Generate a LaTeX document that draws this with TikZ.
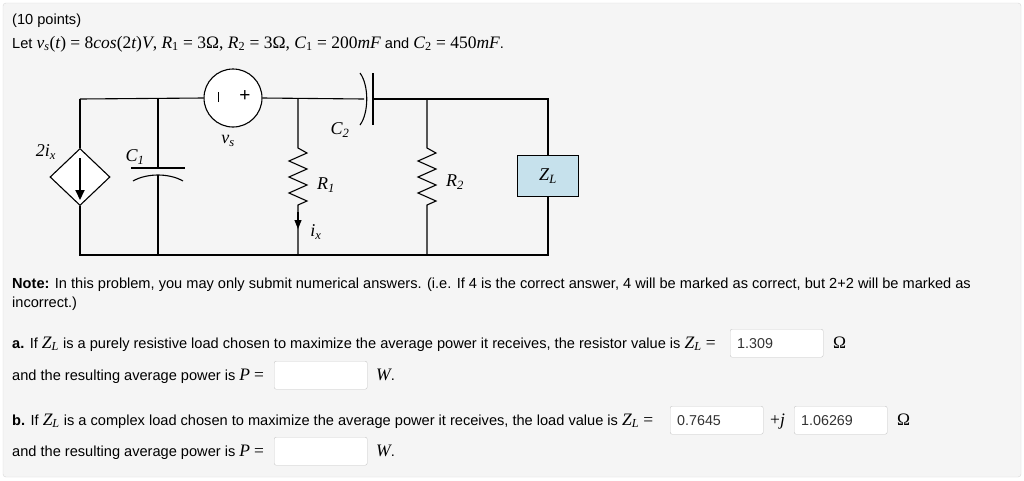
\documentclass[tikz,border=0pt]{standalone}
\usepackage{fontspec}
\setmainfont{Liberation Sans}
\newfontfamily\serifm{Liberation Serif}
\usetikzlibrary{shapes.geometric,arrows.meta}
\newcommand{\mi}[1]{{\serifm\itshape\fontsize{17.5}{18}\selectfont #1}}
\newcommand{\mr}[1]{{\serifm\fontsize{17.5}{18}\selectfont #1}}
\tikzset{
 wire/.style={line width=1.1pt},
 txt/.style={anchor=base west,inner sep=0,font=\fontsize{14.6}{16}\selectfont},
 lbl/.style={inner sep=0,font=\serifm\itshape\fontsize{18}{18}\selectfont},
 ans/.style={draw=black!22,rounded corners=2pt,fill=white,minimum width=93pt,minimum height=28pt,inner sep=0,anchor=north west},
 anstxt/.style={anchor=base west,inner sep=0,font=\fontsize{14.3}{16}\selectfont,text=black!80}
}
\begin{document}
\begin{tikzpicture}[x=1pt,y=-1pt]
\useasboundingbox (0,0) rectangle (1024,480);
\fill[white] (0,0) rectangle (1024,480);
\draw[draw=black!15,fill=black!4,rounded corners=3pt] (3,3) rectangle (1021,477);
% text
\node[txt] (t1) at (12,24) {(10 points)};
\node[txt] (t2) at (12,48) {Let \mi{v\textsubscript{s}}\mr{(}\mi{t}\mr{) = 8}\mi{cos}\mr{(2}\mi{t}\mr{)}\mi{V}\mr{, }\mi{R}\mr{\textsubscript{1} = 3Ω, }\mi{R}\mr{\textsubscript{2} = 3Ω, }\mi{C}\mr{\textsubscript{1} = 200}\mi{mF} and \mi{C}\mr{\textsubscript{2} = 450}\mi{mF}.};
% circuit
\coordinate (TL) at (80,99); \coordinate (BL) at (80,255);
\coordinate (TR) at (548,99); \coordinate (BR) at (548,255);
\node[draw,wire,fill=white,circle,minimum size=58pt,inner sep=0] (vs) at (233,98) {};
\node[lbl] (vsl) at (228,141) {v\textsubscript{\itshape s}};
\node (vm) at (218,97) {\rule{0.8pt}{10pt}};
\node[font=\fontsize{19}{19}\selectfont] (vp) at (245,96) {+};
\node[draw,wire,fill=white,diamond,minimum width=60pt,minimum height=57pt,inner sep=0] (dep) at (80,177) {};
\draw[-{Triangle[length=10pt,width=9pt]},line width=2pt] (80,158) -- (80,200);
\node[lbl] (depl) at (46,152) {2i\textsubscript{\itshape x}};
% C2 capacitor
\coordinate (c2a) at (364,99); \coordinate (c2b) at (373,99);
\draw[wire] (TL) -- (vs.west);
\draw[wire] (vs.east) -- (c2a);
\draw[wire] (c2b) -- (TR) -- (BR) -- (BL) -- (dep.south);
\draw[wire] (dep.north) -- (TL);
\draw[wire] (373,73) -- (373,125);
\draw[wire] (360,73) .. controls (369,85) and (369,113) .. (360,125);
\node[lbl] (c2l) at (340,130) {C\textsubscript{2}};
% C1
\draw[wire] (158,99) -- (158,168);
\draw[wire] (131,168) -- (185,168);
\draw[wire] (133,181) .. controls (147,173) and (169,173) .. (183,181);
\draw[wire] (158,175) -- (158,256);
\node[lbl] (c1l) at (135,157) {C\textsubscript{1}};
% R1
\draw[wire] (298,99) -- (298,148) -- (307,153) -- (289,161) -- (307,169) -- (289,177) -- (307,185) -- (289,193) -- (307,201) -- (298,205) -- (298,255);
\draw[-{Triangle[length=9pt,width=7pt]},line width=1.1pt] (298,212) -- (298,229);
\node[lbl] (r1l) at (326,185) {R\textsubscript{1}};
\node[lbl] (ixl) at (316,232) {i\textsubscript{\itshape x}};
% R2
\draw[wire] (427,99) -- (427,148) -- (436,153) -- (418,161) -- (436,169) -- (418,177) -- (436,185) -- (418,193) -- (436,201) -- (427,205) -- (427,255);
\node[lbl] (r2l) at (455,182) {R\textsubscript{2}};
% ZL
\node[draw,line width=1.8pt,fill=cyan!20!white!85!gray,minimum width=61pt,minimum height=41pt,inner sep=0,font=\serifm\itshape\fontsize{18}{18}\selectfont] (zl) at (548,176) {Z\textsubscript{L}};
% notes
\node[txt] (n1) at (12,288) {\textbf{Note:} In this problem, you may only submit numerical answers. (i.e. If 4 is the correct answer, 4 will be marked as correct, but 2+2 will be marked as};
\node[txt] (n2) at (12,307) {incorrect.)};
\node[txt] (a1) at (12,348) {\textbf{a.} If \mi{Z\textsubscript{L}} is a purely resistive load chosen to maximize the average power it receives, the resistor value is \mi{Z\textsubscript{L}} \mr{=}};
\node[ans] (ba1) at (730,329) {};
\node[anstxt] (va1) at (737,348) {1.309};
\node[txt] (om1) at (833,348) {\mr{Ω}};
\node[txt] (a2) at (12,380) {and the resulting average power is \mi{P} \mr{=}};
\node[ans] (ba2) at (274,361) {};
\node[txt] (w1) at (376,380) {\mi{W}.};
\node[txt] (b1) at (12,425) {\textbf{b.} If \mi{Z\textsubscript{L}} is a complex load chosen to maximize the average power it receives, the load value is \mi{Z\textsubscript{L}} \mr{=}};
\node[ans] (bb1) at (670,406) {};
\node[anstxt] (vb1) at (677,425) {0.7645};
\node[txt] (pj) at (770,425) {\mr{+}\mi{j}};
\node[ans] (bb2) at (794,406) {};
\node[anstxt] (vb2) at (801,425) {1.06269};
\node[txt] (om2) at (897,425) {\mr{Ω}};
\node[txt] (b2) at (12,456) {and the resulting average power is \mi{P} \mr{=}};
\node[ans] (bb3) at (274,437) {};
\node[txt] (w2) at (376,456) {\mi{W}.};
\end{tikzpicture}
\end{document}
